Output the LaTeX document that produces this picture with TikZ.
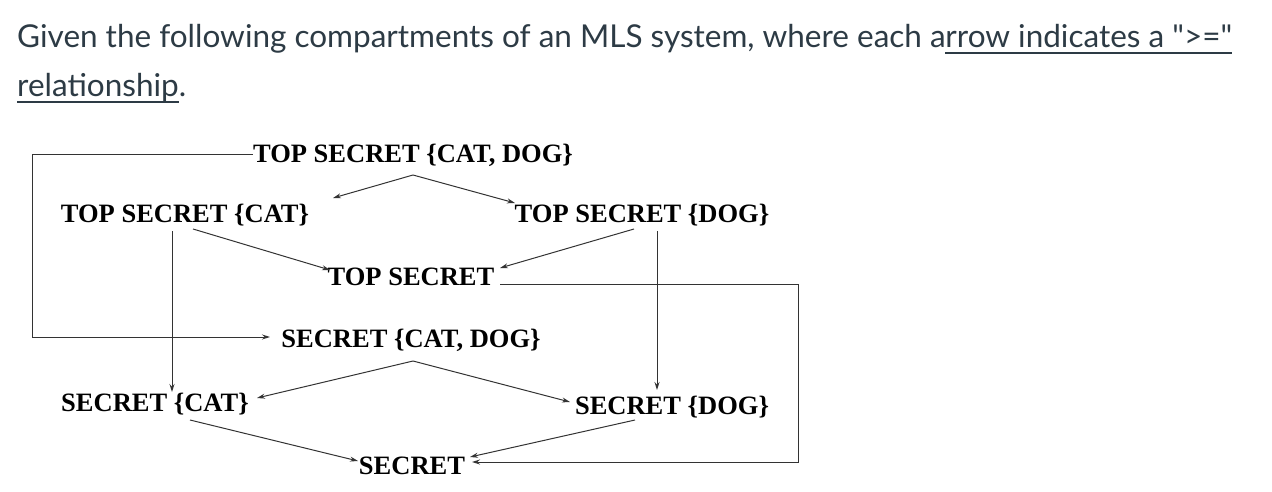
\documentclass[tikz,border=0pt]{standalone}
\usetikzlibrary{arrows.meta}
\usepackage{fontspec}
\setmainfont{Liberation Serif}
\newfontfamily\hdr{Lato}
\definecolor{hdrc}{HTML}{2D3B45}
\newcommand{\myul}[1]{\leavevmode\setbox0\hbox{#1}\rlap{\rule[-6pt]{\wd0}{2.2pt}}\box0}
\begin{document}
\begin{tikzpicture}[x=1pt,y=-1pt,
  lab/.style={inner sep=0pt,font=\fontsize{26.5}{26.5}\selectfont\bfseries},
  ar/.style={-{Stealth[length=8pt,width=5pt]},line width=1pt,draw=black!80},
  hd/.style={inner sep=0pt,anchor=base west,text=hdrc,font=\hdr\fontsize{31.5}{31.5}\selectfont}]
\useasboundingbox (0,0) rectangle (1272,492);
\node[hd] (h1) at (17,48) {Given the following compartments of an MLS system, where each a\myul{rrow indicates a "{>}="}};
\node[hd] (h2) at (17,97) {\myul{relationship}.};
\node[lab] (tscd) at (413,155) {TOP SECRET \{CAT, DOG\}};
\node[lab] (tsc) at (185,215) {TOP SECRET \{CAT\}};
\node[lab] (tsd) at (642,215) {TOP SECRET \{DOG\}};
\node[lab] (ts) at (411,277) {TOP SECRET};
\node[lab] (scd) at (411,340) {SECRET \{CAT, DOG\}};
\node[lab] (sc) at (155,404) {SECRET \{CAT\}};
\node[lab] (sd) at (672,407) {SECRET \{DOG\}};
\node[lab] (s) at (412,466) {SECRET};
\coordinate (a1) at (413,175); \coordinate (a2) at (333,198); \coordinate (a3) at (515,203);
\draw[ar] (a1) -- (a2); \draw[ar] (a1) -- (a3);
\coordinate (b1) at (193,229); \coordinate (b2) at (330,270);
\coordinate (c1) at (634,229); \coordinate (c2) at (500,268);
\draw[ar] (b1) -- (b2); \draw[ar] (c1) -- (c2);
\coordinate (l1) at (32,155); \coordinate (l2) at (32,337); \coordinate (l3) at (270,337);
\draw[ar] (tscd.west) -- (l1) -- (l2) -- (l3);
\coordinate (v1) at (172,231); \coordinate (v2) at (172,392);
\coordinate (w1) at (657,231); \coordinate (w2) at (657,390);
\draw[ar] (v1) -- (v2); \draw[ar] (w1) -- (w2);
\coordinate (r1) at (500,284); \coordinate (r2) at (798,284); \coordinate (r3) at (798,462); \coordinate (r4) at (472,462);
\draw[ar] (r1) -- (r2) -- (r3) -- (r4);
\coordinate (d1) at (413,361); \coordinate (d2) at (257,398); \coordinate (d3) at (570,402);
\draw[ar] (d1) -- (d2); \draw[ar] (d1) -- (d3);
\coordinate (e1) at (190,420); \coordinate (e2) at (358,461);
\coordinate (f1) at (635,420); \coordinate (f2) at (470,457);
\draw[ar] (e1) -- (e2); \draw[ar] (f1) -- (f2);
\end{tikzpicture}
\end{document}
